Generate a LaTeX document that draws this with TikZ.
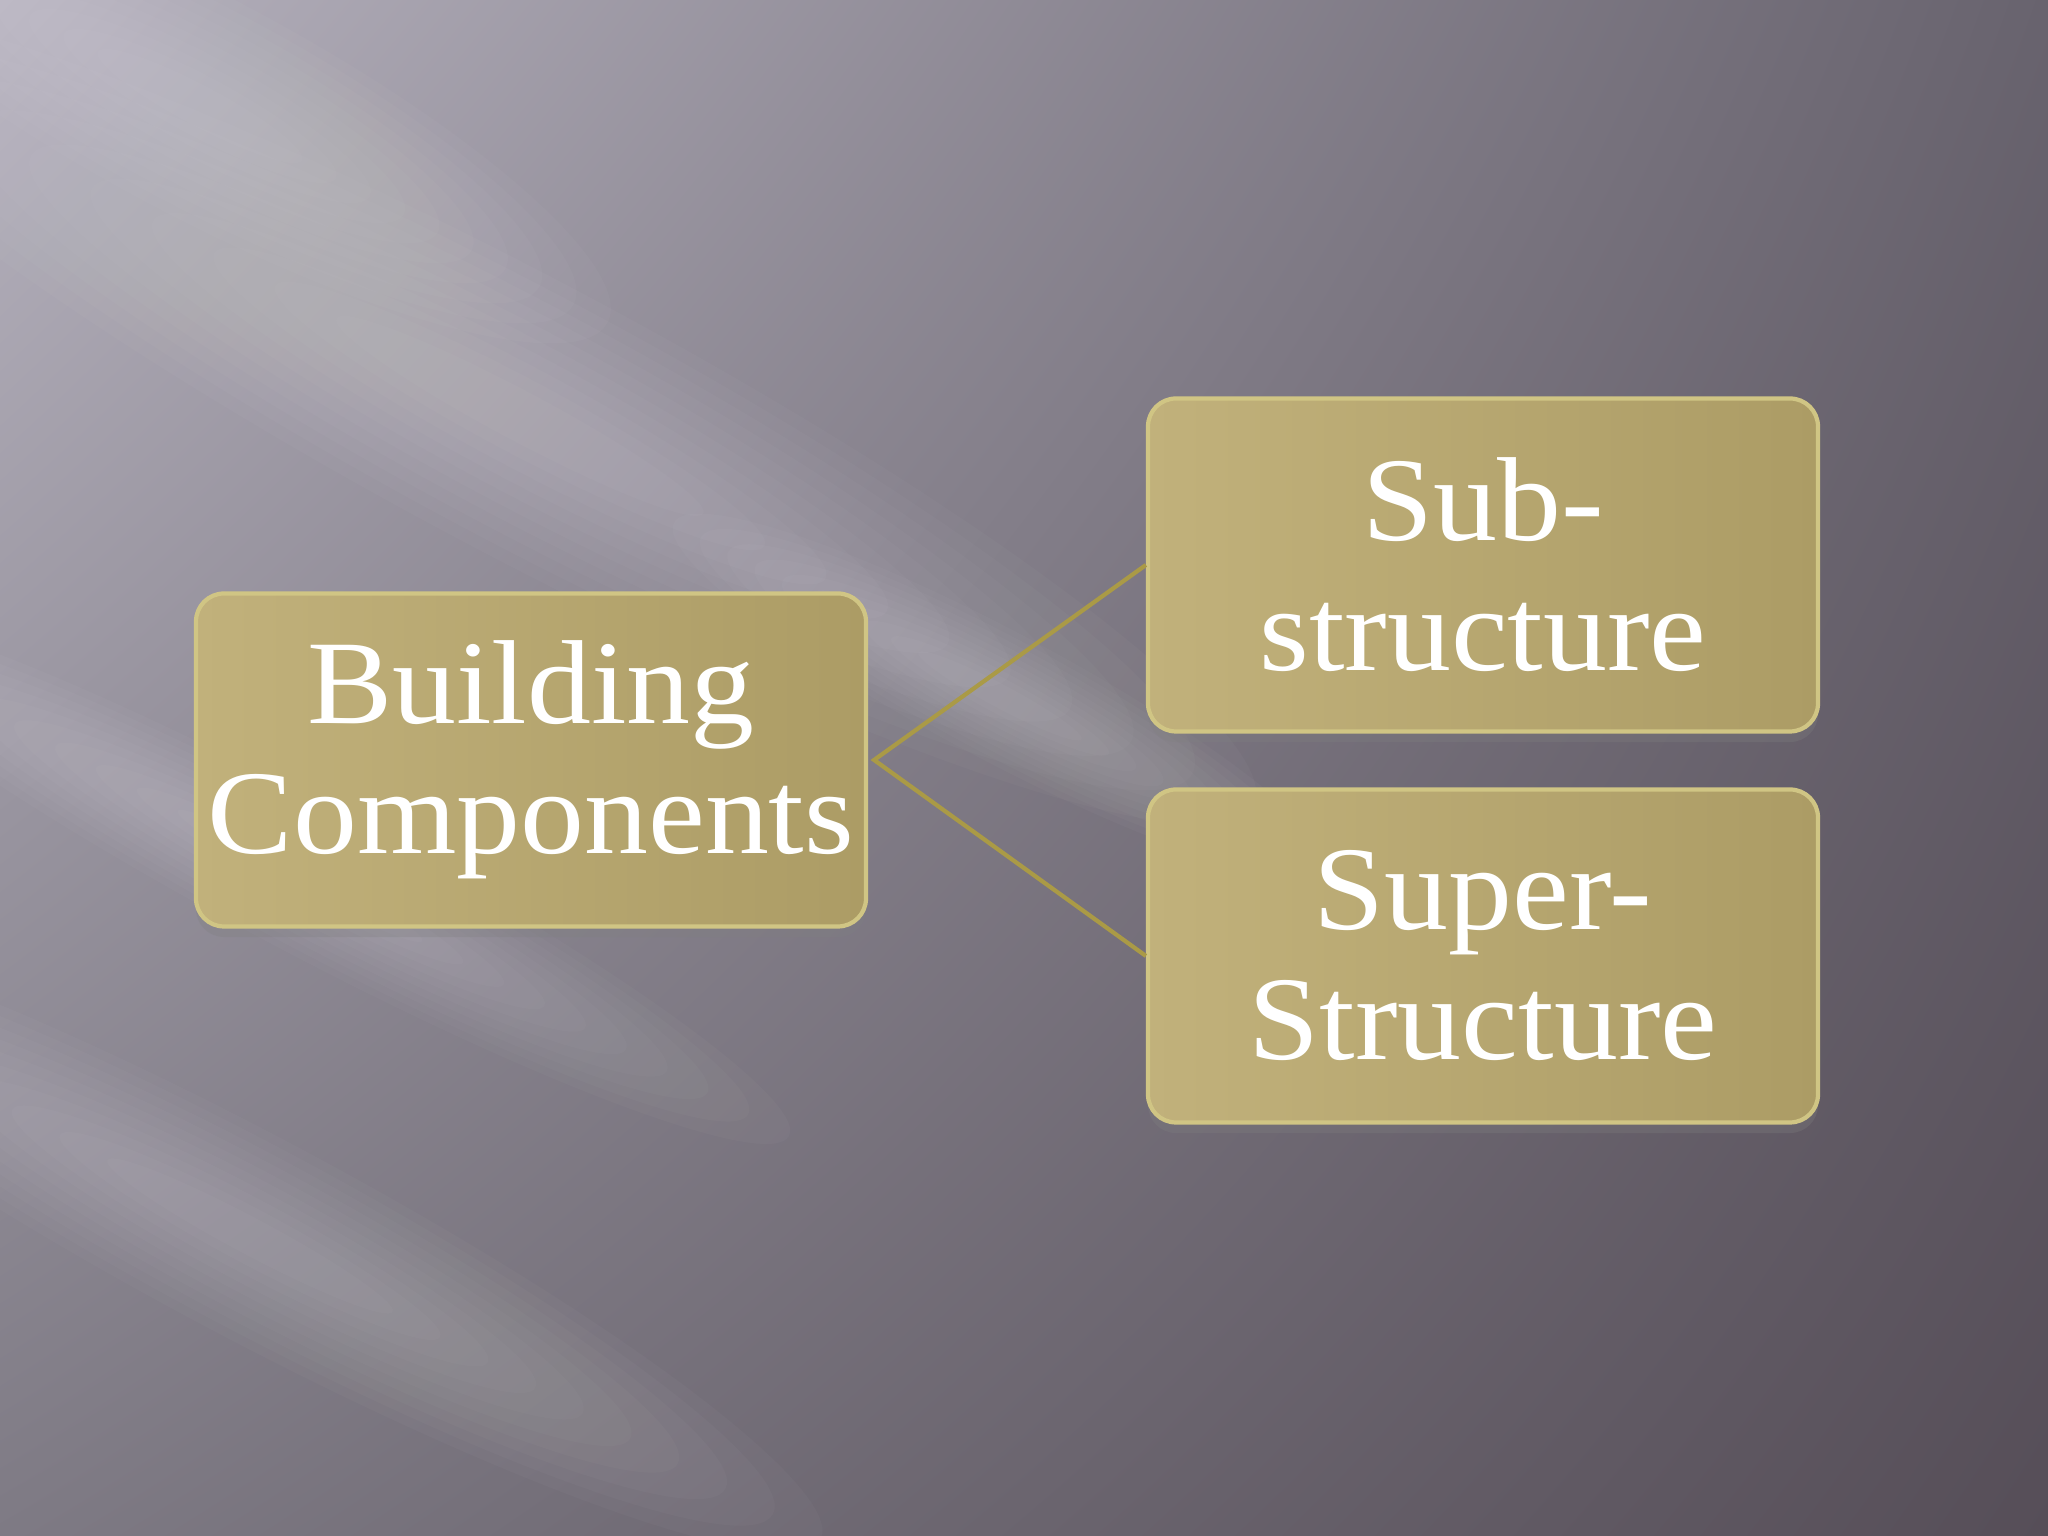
\documentclass[tikz,border=0pt]{standalone}
\usepackage{fontspec}
\setmainfont[FakeStretch=1.07]{Liberation Serif}
\usetikzlibrary{calc,shadows,shadings}
\definecolor{BgTL}{RGB}{182,178,190}
\definecolor{BgTR}{RGB}{104,99,110}
\definecolor{BgBL}{RGB}{126,122,132}
\definecolor{BgBR}{RGB}{86,78,88}
\definecolor{BoxLeftClr}{RGB}{193,177,123}
\definecolor{BoxRightClr}{RGB}{172,156,101}
\definecolor{BoxEdgeClr}{RGB}{208,197,132}
\definecolor{LineClr}{RGB}{170,154,70}

\begin{document}
\begin{tikzpicture}[
  box/.style={rectangle,rounded corners=.28cm,minimum width=6.7cm,minimum height=3.33cm,
    left color=BoxLeftClr,right color=BoxRightClr,draw=BoxEdgeClr,line width=1.2pt,
    drop shadow={shadow xshift=0pt,shadow yshift=-3pt,opacity=.3},
    text=white,align=center,font=\fontsize{34}{37}\selectfont}]
\useasboundingbox (0,0) rectangle (20.48,15.36);

% background
\shade[upper left=BgTL,upper right=BgTR,lower left=BgBL,lower right=BgBR] (0,0) rectangle (20.48,15.36);
% light streaks
\foreach \x/\y/\len/\wd in {5.2/11.2/9/1.5, 2.0/14.3/5/1.2, 3.0/6.6/6/0.8, 2.5/3.0/7/1.1, 10.0/8.4/4/0.7}{
  \begin{scope}[shift={(\x,\y)},rotate=-28]
    \foreach \k in {1,...,10}
      \fill[white,opacity=.022] (0,0) ellipse ({\len*(1-\k/13)} and {\wd*(1-\k/12)});
  \end{scope}
}

% boxes
\node[box] (A) at (5.31,7.76) {Building\\Components};
\node[box] (B) at (14.83,9.71) {Sub-\\structure};
\node[box] (C) at (14.83,5.80) {Super-\\Structure};

% connectors
\coordinate (J) at ($(A.east)+(.06,0)$);
\draw[LineClr,line width=1.2pt] (B.west) -- (J) -- (C.west);

\end{tikzpicture}
\end{document}
